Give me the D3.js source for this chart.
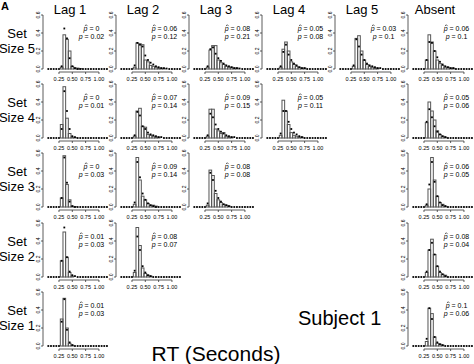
<!DOCTYPE html>
<html><head><meta charset="utf-8">
<script src="https://cdn.jsdelivr.net/npm/d3@7"></script>
<style>
body{margin:0;background:#fff}
svg{display:block}
text{font-family:"Liberation Sans",Arial,sans-serif;fill:#000}
</style>
</head><body>
<svg id="chart" width="474" height="364"></svg>
<script>
// ---------- data ----------
const rtBins = [0.05,0.10,0.15,0.20,0.25,0.30,0.35,0.40,0.45,0.50,0.55,0.60,0.65,0.70,0.75,0.80,0.85,0.90,0.95,1.00,1.05,1.10,1.15];
const lagColumns = ["Lag 1","Lag 2","Lag 3","Lag 4","Lag 5","Absent"];
const setSizeRows = ["Size 5","Size 4","Size 3","Size 2","Size 1"];
const xTickValues = [0.25,0.50,0.75,1.00];
const xTickLabels = ["0.25","0.50","0.75","1.00"];
const yTickValues = [0.0,0.2,0.4,0.6];
const yTickLabels = ["0.0","0.2","0.4","0.6"];

// observed RT histograms (proportion per bin); null = panel not shown
const observedSS5 = [
  [0,0,0,0,0,0.02,0.38,0.33,0.20,0.03,0.01,0.01,0.005,0,0,0,0,0,0,0,0,0,0],
  [0,0,0,0,0,0.02,0.29,0.28,0.27,0.10,0.08,0.04,0.03,0.02,0.01,0.01,0.005,0,0,0,0,0,0],
  [0,0,0,0,0,0.02,0.21,0.26,0.26,0.10,0.07,0.05,0.03,0.02,0.02,0.01,0.01,0,0,0,0,0,0],
  [0,0,0,0,0,0.02,0.22,0.30,0.20,0.08,0.05,0.03,0.02,0.01,0.01,0,0,0,0,0,0,0,0],
  [0,0,0,0,0,0.03,0.34,0.37,0.20,0.10,0.05,0.03,0.02,0.01,0.01,0,0,0,0,0,0,0,0],
  [0,0,0,0,0,0.10,0.38,0.30,0.20,0.10,0.06,0.04,0.02,0.02,0.01,0.01,0,0,0,0,0,0,0]
];
const predictedSS5 = [
  [0,0,0,0,0,0.03,0.45,0.34,0.12,0.03,0.01,0,0,0,0,0,0,0,0,0,0,0,0],
  [0,0,0,0,0,0.04,0.29,0.27,0.25,0.15,0.10,0.07,0.05,0.03,0.02,0.01,0.01,0.005,0,0,0,0,0],
  [0,0,0,0,0,0.03,0.22,0.24,0.17,0.12,0.09,0.06,0.04,0.03,0.02,0.01,0.01,0.005,0,0,0,0,0],
  [0,0,0,0,0,0.03,0.19,0.27,0.16,0.10,0.06,0.04,0.02,0.01,0.01,0,0,0,0,0,0,0,0],
  [0,0,0,0,0,0.04,0.33,0.25,0.16,0.10,0.06,0.04,0.03,0.02,0.01,0.01,0,0,0,0,0,0,0],
  [0,0,0,0,0,0.10,0.30,0.29,0.20,0.13,0.08,0.05,0.03,0.02,0.01,0.01,0,0,0,0,0,0,0]
];
const observedSS4 = [
  [0,0,0,0,0,0.15,0.57,0.22,0.05,0.01,0.005,0,0,0,0,0,0,0,0,0,0,0,0],
  [0,0,0,0,0,0.02,0.30,0.33,0.13,0.12,0.04,0.03,0.02,0.01,0.01,0,0,0,0,0,0,0,0],
  [0,0,0,0,0,0.02,0.32,0.32,0.10,0.08,0.05,0.06,0.02,0.01,0.01,0,0,0,0,0,0,0,0],
  [0,0,0,0,0,0.03,0.42,0.30,0.15,0.06,0.03,0.02,0.01,0.01,0,0,0,0,0,0,0,0,0],
  null,
  [0,0,0,0,0,0.17,0.40,0.30,0.20,0.08,0.04,0.02,0.01,0,0,0,0,0,0,0,0,0,0]
];
const predictedSS4 = [
  [0,0,0,0,0,0.10,0.52,0.30,0.10,0.02,0.01,0,0,0,0,0,0,0,0,0,0,0,0],
  [0,0,0,0,0,0.03,0.29,0.25,0.13,0.10,0.06,0.04,0.03,0.02,0.01,0.01,0,0,0,0,0,0,0],
  [0,0,0,0,0,0.03,0.27,0.23,0.15,0.10,0.07,0.05,0.03,0.02,0.01,0.01,0,0,0,0,0,0,0],
  [0,0,0,0,0,0.05,0.30,0.30,0.18,0.10,0.06,0.04,0.02,0.01,0,0,0,0,0,0,0,0,0],
  null,
  [0,0,0,0,0,0.18,0.32,0.23,0.13,0.07,0.04,0.02,0.01,0,0,0,0,0,0,0,0,0,0]
];
const observedSS3 = [
  [0,0,0,0,0,0.10,0.57,0.25,0.08,0.01,0.005,0,0,0,0,0,0,0,0,0,0,0,0],
  [0,0,0,0,0,0.03,0.55,0.30,0.12,0.08,0.04,0.02,0.02,0.01,0,0,0,0,0,0,0,0,0],
  [0,0,0,0,0,0.02,0.41,0.35,0.15,0.08,0.05,0.03,0.02,0.01,0,0,0,0,0,0,0,0,0],
  null, null,
  [0,0,0,0,0,0.02,0.20,0.55,0.30,0.12,0.05,0.03,0.01,0,0,0,0,0,0,0,0,0,0]
];
const predictedSS3 = [
  [0,0,0,0,0,0.10,0.55,0.27,0.06,0.01,0,0,0,0,0,0,0,0,0,0,0,0,0],
  [0,0,0,0,0,0.05,0.50,0.33,0.15,0.08,0.04,0.02,0.01,0,0,0,0,0,0,0,0,0,0],
  [0,0,0,0,0,0.04,0.38,0.30,0.18,0.10,0.06,0.03,0.02,0.01,0,0,0,0,0,0,0,0,0],
  null, null,
  [0,0,0,0,0,0.03,0.25,0.50,0.28,0.12,0.05,0.02,0.01,0,0,0,0,0,0,0,0,0,0]
];
const observedSS2 = [
  [0,0,0,0,0,0.18,0.50,0.22,0.05,0.01,0,0,0,0,0,0,0,0,0,0,0,0,0],
  [0,0,0,0,0,0.05,0.55,0.35,0.10,0.04,0.02,0.01,0,0,0,0,0,0,0,0,0,0,0],
  null, null, null,
  [0,0,0,0,0,0.05,0.30,0.42,0.25,0.12,0.05,0.03,0.02,0,0,0,0,0,0,0,0,0,0]
];
const predictedSS2 = [
  [0,0,0,0,0,0.18,0.55,0.22,0.06,0.02,0.01,0,0,0,0,0,0,0,0,0,0,0,0],
  [0,0,0,0,0,0.07,0.45,0.30,0.12,0.05,0.02,0.01,0,0,0,0,0,0,0,0,0,0,0],
  null, null, null,
  [0,0,0,0,0,0.06,0.30,0.38,0.25,0.12,0.06,0.03,0.01,0,0,0,0,0,0,0,0,0,0]
];
const observedSS1 = [
  [0,0,0,0,0,0.30,0.53,0.20,0.03,0.01,0,0,0,0,0,0,0,0,0,0,0,0,0],
  null, null, null, null,
  [0,0,0,0,0,0.05,0.42,0.36,0.10,0.03,0.02,0.01,0,0,0,0,0,0,0,0,0,0,0]
];
const predictedSS1 = [
  [0,0,0,0,0,0.27,0.52,0.18,0.04,0.01,0,0,0,0,0,0,0,0,0,0,0,0,0],
  null, null, null, null,
  [0,0,0,0,0,0.08,0.42,0.30,0.10,0.04,0.02,0.01,0,0,0,0,0,0,0,0,0,0,0]
];
const pHatSS5 = ["0","0.06","0.08","0.05","0.03","0.06"];
const pValSS5 = ["0.02","0.12","0.21","0.08","0.1","0.1"];
const pHatSS4 = ["0","0.07","0.09","0.05",null,"0.05"];
const pValSS4 = ["0.01","0.14","0.15","0.11",null,"0.06"];
const pHatSS3 = ["0","0.09","0.08",null,null,"0.06"];
const pValSS3 = ["0.03","0.14","0.08",null,null,"0.05"];
const pHatSS2 = ["0.01","0.08",null,null,null,"0.08"];
const pValSS2 = ["0.03","0.07",null,null,null,"0.04"];
const pHatSS1 = ["0.01",null,null,null,null,"0.1"];
const pValSS1 = ["0.03",null,null,null,null,"0.06"];

const rows = [
  {label:setSizeRows[0], obs:observedSS5, pred:predictedSS5, ph:pHatSS5, pv:pValSS5},
  {label:setSizeRows[1], obs:observedSS4, pred:predictedSS4, ph:pHatSS4, pv:pValSS4},
  {label:setSizeRows[2], obs:observedSS3, pred:predictedSS3, ph:pHatSS3, pv:pValSS3},
  {label:setSizeRows[3], obs:observedSS2, pred:predictedSS2, ph:pHatSS2, pv:pValSS2},
  {label:setSizeRows[4], obs:observedSS1, pred:predictedSS1, ph:pHatSS1, pv:pValSS1}
];

// ---------- layout ----------
const svg = d3.select("#chart");
const colLeft = [43,116,189,262,335,408];
const rowBase = [69,138,207,277,346];
const panelW = 66.6, panelH = 54, binW = 0.05;

svg.append("text").attr("x",1).attr("y",10).attr("font-size",11).attr("font-weight","bold").text("A");

lagColumns.forEach((t,i)=>{
  svg.append("text").attr("x",colLeft[i]+27).attr("y",14).attr("font-size",13)
    .attr("text-anchor","middle").text(t);
});

rows.forEach((row,r)=>{
  const base = rowBase[r];
  svg.append("text").attr("x",17).attr("y",base-31).attr("font-size",13).attr("text-anchor","middle").text("Set");
  svg.append("text").attr("x",17).attr("y",base-16).attr("font-size",13).attr("text-anchor","middle").text(row.label);

  lagColumns.forEach((lag,c)=>{
    const obs = row.obs[c];
    if(!obs) return;
    const pred = row.pred[c];
    const left = colLeft[c];
    const x = d3.scaleLinear().domain([-0.05,1.2]).range([left,left+panelW]);
    const y = d3.scaleLinear().domain([0,0.6]).range([base,base-panelH]);
    const g = svg.append("g");

    // histogram bars
    g.selectAll("rect.bar").data(rtBins.map((b,i)=>({b,v:obs[i]}))).join("rect")
      .attr("class","bar")
      .attr("x",d=>x(d.b-binW/2)).attr("width",x(binW)-x(0))
      .attr("y",d=>y(d.v)).attr("height",d=>base-y(d.v))
      .attr("fill","none").attr("stroke","#555").attr("stroke-width",1);

    // predicted points
    g.selectAll("rect.pt").data(rtBins.map((b,i)=>({b,v:pred[i]}))).join("rect")
      .attr("class","pt")
      .attr("x",d=>x(d.b)-0.9).attr("y",d=>y(d.v)-0.9).attr("width",1.8).attr("height",1.8).attr("fill","#000");

    // y axis
    const ya = g.append("g").attr("transform",`translate(${left},0)`);
    ya.append("line").attr("x1",0).attr("x2",0).attr("y1",y(0)).attr("y2",y(0.6)).attr("stroke","#333").attr("stroke-width",0.8);
    yTickValues.forEach((v,k)=>{
      ya.append("line").attr("x1",0).attr("x2",-2).attr("y1",y(v)).attr("y2",y(v)).attr("stroke","#333").attr("stroke-width",0.8);
      ya.append("text").attr("transform",`translate(-3.5,${y(v)}) rotate(-90)`).attr("font-size",5)
        .attr("text-anchor","middle").attr("fill","#333").text(yTickLabels[k]);
    });
    // x axis
    const xa = g.append("g").attr("transform",`translate(0,${base+3})`);
    xa.append("line").attr("x1",x(0.25)).attr("x2",x(1.0)).attr("y1",0).attr("y2",0).attr("stroke","#333").attr("stroke-width",0.8);
    xTickValues.forEach((v,k)=>{
      xa.append("line").attr("x1",x(v)).attr("x2",x(v)).attr("y1",0).attr("y2",2).attr("stroke","#333").attr("stroke-width",0.8);
      xa.append("text").attr("x",x(v)).attr("y",8.5).attr("font-size",5.5).attr("text-anchor","middle").attr("fill","#333").text(xTickLabels[k]);
    });

    // annotations
    const cx = x(0.86);
    const t1 = g.append("text").attr("x",cx).attr("y",base-38).attr("font-size",7).attr("text-anchor","middle");
    t1.append("tspan").attr("font-style","italic").text("p");
    t1.append("tspan").text(" = " + row.ph[c]);
    const n = t1.node();
    const px0 = n.getStartPositionOfChar(0).x, px1 = n.getEndPositionOfChar(0).x;
    const hx = (px0+px1)/2 + 0.6, hy = base-44.3;
    g.append("path").attr("d",`M${hx-1.3},${hy+1.4}L${hx},${hy}L${hx+1.3},${hy+1.4}`)
      .attr("fill","none").attr("stroke","#000").attr("stroke-width",0.6);
    const t2 = g.append("text").attr("x",cx).attr("y",base-30).attr("font-size",7).attr("text-anchor","middle");
    t2.append("tspan").attr("font-style","italic").text("p");
    t2.append("tspan").text(" = " + row.pv[c]);
  });
});

svg.append("text").attr("x",298).attr("y",325).attr("font-size",20).text("Subject 1");
svg.append("text").attr("x",216).attr("y",361).attr("font-size",21).attr("text-anchor","middle").text("RT (Seconds)");
</script>
</body></html>
